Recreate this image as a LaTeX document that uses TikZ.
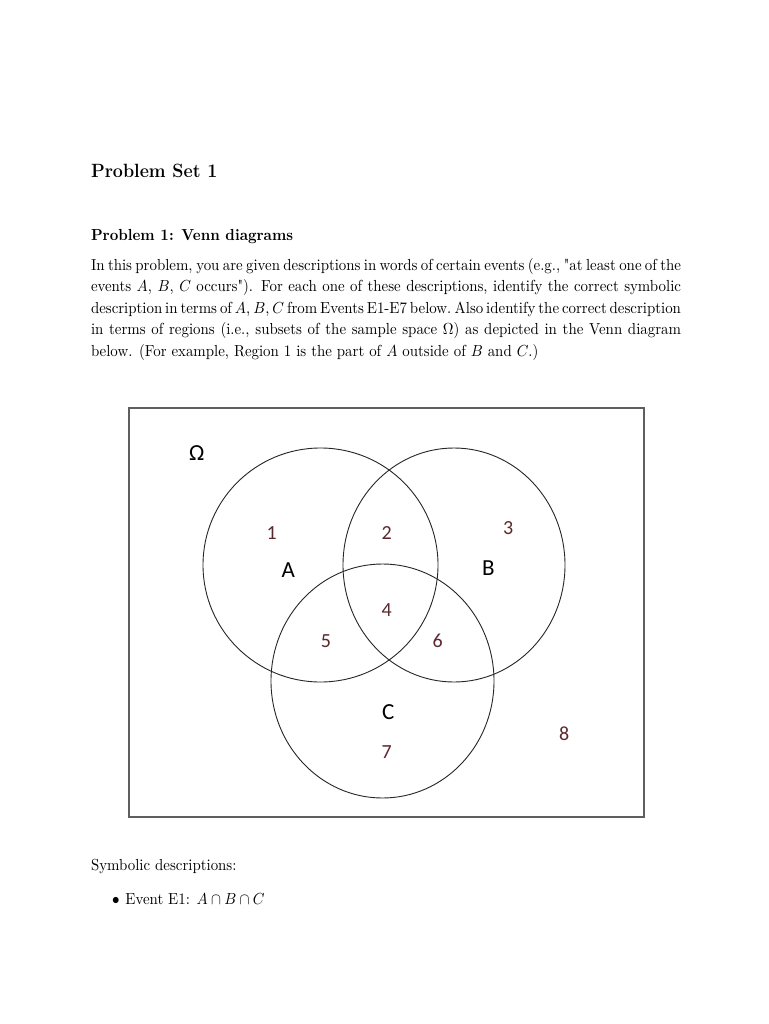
\documentclass[tikz,border=0pt]{standalone}
\usepackage{fontspec}
\usepackage{amsmath,amssymb}
\usetikzlibrary{shapes.geometric,positioning}
\newfontfamily\vennfont{Carlito}
\definecolor{regnum}{RGB}{90,40,45}
\definecolor{framegray}{RGB}{95,95,95}

\begin{document}
\begin{tikzpicture}[x=1pt,y=-1pt,
  every node/.style={inner sep=0pt,outer sep=0pt},
  body/.style={font=\fontsize{10}{12}\selectfont,anchor=base west,
    xscale=1.49,yscale=1.6,transform shape},
  setlbl/.style={font=\vennfont\fontsize{23}{23}\selectfont},
  regnr/.style={font=\vennfont\fontsize{20}{20}\selectfont,text=regnum},
  setring/.style={draw=black!85,line width=0.9pt,ellipse}]
\useasboundingbox[fill=white] (0,0) rectangle (768,1024);

% headings
\node[body,font=\bfseries\fontsize{12}{14}\selectfont] (title) at (91,178) {Problem Set 1};
\node[body,font=\bfseries\fontsize{10}{12}\selectfont] (prob) at (91,240.5) {Problem 1: Venn diagrams};

% paragraph, line by line
\node[body] (l1) at (91,270) {\makebox[396pt][s]{In this problem, you are given descriptions in words of certain events (e.g., \textquotedbl at least one of the}};
\node[body] (l2) at (91,291.5) {\makebox[396pt][s]{events $A$, $B$, $C$ occurs\textquotedbl). For each one of these descriptions, identify the correct symbolic}};
\node[body] (l3) at (91,313) {\spaceskip=2.3pt plus 1pt minus 0.5pt\xspaceskip=2.6pt plus 1pt minus 0.5pt%
  \makebox[396pt][s]{description in terms of $A$, $B$, $C$ from Events E1-E7 below. Also identify the correct description}};
\node[body] (l4) at (91,334.5) {\makebox[396pt][s]{in terms of regions (i.e., subsets of the sample space $\Omega$) as depicted in the Venn diagram}};
\node[body] (l5) at (91,356) {below. (For example, Region 1 is the part of $A$ outside of $B$ and $C$.)};

% sample space
\node[draw=framegray,line width=1.8pt,minimum width=515pt,minimum height=409pt,
  anchor=north west] (space) at (129,408) {};

% the three sets
\node[setring,minimum width=235pt,minimum height=234pt] (setA) at (320.5,565) {};
\node[setring,minimum width=222pt,minimum height=234pt] (setB) at (454,565) {};
\node[setring,minimum width=223pt,minimum height=234pt] (setC) at (382.5,681) {};

\node[setlbl] (om) at (196.7,453.3) {Ω};
\node[setlbl] (lA) at (288.3,570) {A};
\node[setlbl] (lB) at (488.3,568.3) {B};
\node[setlbl] (lC) at (388.3,712.3) {C};

\node[regnr] (r1) at (271.7,533.3) {1};
\node[regnr] (r2) at (386.7,533.3) {2};
\node[regnr] (r3) at (508.3,528.3) {3};
\node[regnr] (r4) at (386.7,610) {4};
\node[regnr] (r5) at (326,640.7) {5};
\node[regnr] (r6) at (437.7,640.7) {6};
\node[regnr] (r7) at (386.7,752.3) {7};
\node[regnr] (r8) at (564.3,734) {8};

% symbolic descriptions
\node[body] (sym) at (91,870) {Symbolic descriptions:};
\node[body] (e1) at (112,904) {$\bullet$\hspace{4pt}Event E1: $A\cap B\cap C$};
\end{tikzpicture}
\end{document}
